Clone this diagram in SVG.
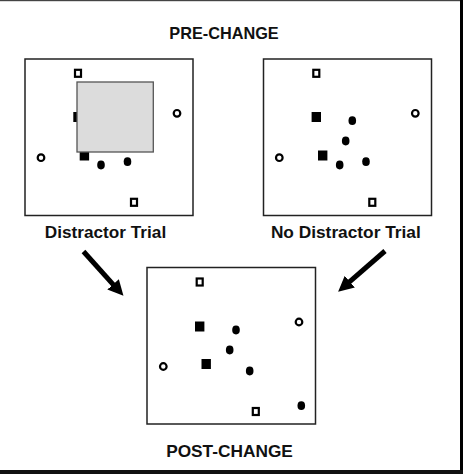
<svg xmlns="http://www.w3.org/2000/svg" xmlns:xlink="http://www.w3.org/1999/xlink" width="474" height="474" viewBox="0 0 474 474">
<style>
.panel{fill:#fff;stroke:#222;stroke-width:1.5}
.lbl{font-family:"Liberation Sans",Arial,sans-serif;font-weight:bold;fill:#111;text-anchor:middle}
.osq{fill:#fff;stroke:#000;stroke-width:2.2}
.oc{fill:#fff;stroke:#000;stroke-width:2.2}
.fs{fill:#000}
.fe{fill:#000}
.arr{stroke:#000;stroke-width:5;fill:none}
</style>
<defs>
<rect id="osq" class="osq" x="-3" y="-3.5" width="6" height="7"/>
<circle id="oc" class="oc" r="3.3"/>
<rect id="fs" class="fs" x="-4.7" y="-5" width="9.4" height="10"/>
<ellipse id="fe" class="fe" rx="3.8" ry="4.4"/>
<marker id="ah" viewBox="0 0 10 10" refX="3" refY="5" markerWidth="3.1" markerHeight="3.1" orient="auto" markerUnits="strokeWidth">
<path d="M0,0 L10,5 L0,10 z" fill="#000"/>
</marker>
</defs>
<rect x="0" y="0" width="474" height="474" fill="#fff"/>
<rect x="0" y="0" width="462" height="1.2" fill="#444"/>
<rect x="460" y="0" width="3" height="473" fill="#000"/>
<rect x="0" y="470" width="463" height="4" fill="#111"/>

<text class="lbl" x="224" y="39" font-size="16.3">PRE-CHANGE</text>

<g id="distractor-trial">
<rect class="panel" x="25" y="59" width="168" height="156.5"/>
<use xlink:href="#osq" x="78" y="73.3"/>
<use xlink:href="#fs" x="78" y="117"/>
<use xlink:href="#fe" x="114" y="120.7"/>
<use xlink:href="#fe" x="107.4" y="141"/>
<use xlink:href="#oc" x="177" y="113.3"/>
<use xlink:href="#oc" x="41" y="157.7"/>
<use xlink:href="#fs" x="84.4" y="155.5"/>
<use xlink:href="#fe" x="101" y="165"/>
<use xlink:href="#fe" x="127.5" y="161.7"/>
<use xlink:href="#osq" x="134" y="202.3"/>
<rect x="77" y="82" width="76.3" height="70" fill="#dcdcdc" stroke="#555" stroke-width="1.3"/>
<text class="lbl" x="105.5" y="237.5" font-size="17.2">Distractor Trial</text>
</g>

<g id="no-distractor-trial">
<rect class="panel" x="263.5" y="59" width="168" height="156.5"/>
<use xlink:href="#osq" x="316.3" y="73.3"/>
<use xlink:href="#fs" x="316.3" y="117"/>
<use xlink:href="#fe" x="352.3" y="120.7"/>
<use xlink:href="#fe" x="345.7" y="141"/>
<use xlink:href="#oc" x="415.3" y="113.3"/>
<use xlink:href="#oc" x="279.3" y="157.7"/>
<use xlink:href="#fs" x="322.7" y="155.5"/>
<use xlink:href="#fe" x="339.7" y="165"/>
<use xlink:href="#fe" x="366" y="161.7"/>
<use xlink:href="#osq" x="372.3" y="202.3"/>
<text class="lbl" x="345.8" y="237.5" font-size="17.3">No Distractor Trial</text>
</g>

<g id="post-change">
<rect class="panel" x="147" y="267.5" width="168.5" height="156.5"/>
<use xlink:href="#osq" x="199.7" y="282"/>
<use xlink:href="#fs" x="199.7" y="326.5"/>
<use xlink:href="#fe" x="236" y="330"/>
<use xlink:href="#fe" x="229.7" y="350"/>
<use xlink:href="#oc" x="299" y="322"/>
<use xlink:href="#oc" x="163.3" y="366.5"/>
<use xlink:href="#fs" x="206.2" y="364"/>
<use xlink:href="#fe" x="249.7" y="371"/>
<use xlink:href="#fe" x="301.3" y="405.7"/>
<use xlink:href="#osq" x="255.8" y="411.5"/>
<text class="lbl" x="229.5" y="456.7" font-size="17.3">POST-CHANGE</text>
</g>

<g id="connectors">
<line class="arr" x1="83.5" y1="251.5" x2="116.2" y2="287.8" marker-end="url(#ah)"/>
<line class="arr" x1="385" y1="251" x2="346.3" y2="284.7" marker-end="url(#ah)"/>
</g>
</svg>
